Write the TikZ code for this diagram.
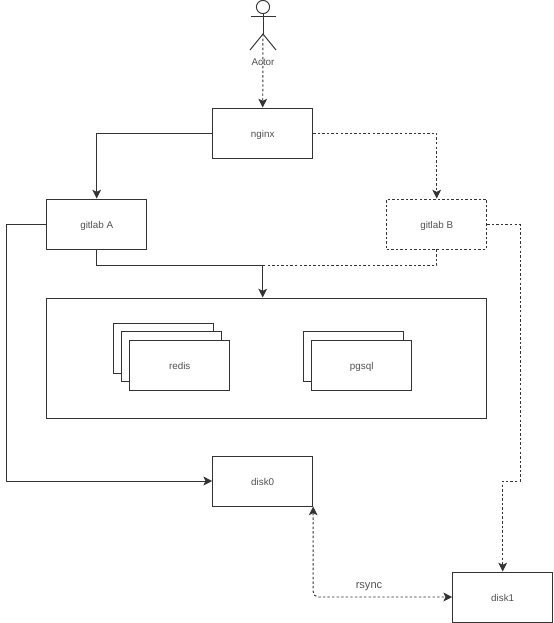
\documentclass[tikz,border=0pt]{standalone}
\usepackage{fontspec}
\usepackage{xcolor}
\setmainfont{Liberation Sans}
\usetikzlibrary{arrows.meta}
\definecolor{linegray}{HTML}{333333}
\definecolor{textgray}{HTML}{505050}
\tikzset{
	boxtext/.style={text=textgray, font=\fontsize{5.6}{7}\selectfont, text height=5.4pt, text depth=0pt},
	box/.style={boxtext, draw=linegray, line width=0.55pt, fill=white, minimum width=2cm, minimum height=1cm, inner sep=0pt},
	dashbox/.style={box, dash pattern=on 1.4pt off 1.2pt},
	link/.style={draw=linegray, line width=0.55pt, -{Stealth[length=5pt, width=5pt, inset=1.2pt]}},
	plainlink/.style={draw=linegray, line width=0.55pt},
	dashlink/.style={link, dash pattern=on 1.4pt off 1.2pt},
	dashplain/.style={plainlink, dash pattern=on 1.4pt off 1.2pt}
}

\begin{document}
\begin{tikzpicture}[x=0.02cm, y=-0.02cm]
		
		\useasboundingbox (0,0) rectangle (554,623);
		
		% actor
		\draw[plainlink] (263,7) circle (6.6);
		\draw[plainlink] (263,14) -- (263,34);
		\draw[plainlink] (250.5,16.5) -- (275.5,16.5);
		\draw[plainlink] (250,50) -- (263,34) -- (276,50);
		\coordinate (actor) at (263,34);
		\node[boxtext] (actorlabel) at (263,61) {Actor};
		
		% boxes
		\node[box] (nginx) at (262.7,133) {nginx};
		\node[box] (gitlaba) at (96.7,224) {gitlab A};
		\node[dashbox] (gitlabb) at (436.7,224) {gitlab B};
		\node[box, minimum width=8.8cm, minimum height=2.4cm] (backend) at (266.7,358) {};
		
		\node[box] (redisc) at (163.5,348) {};
		\node[box] (redisb) at (171.7,356.5) {};
		\node[box] (redisa) at (179.7,365) {redis};
		
		\node[box] (pgsqlb) at (353.7,356.5) {};
		\node[box] (pgsqla) at (361.7,365) {pgsql};
		
		\node[box] (disk0) at (262.7,481) {disk0};
		\node[box] (disk1) at (502.7,597) {disk1};
		
		% bends
		\coordinate (join) at (262.7,265.5);
		\coordinate (leftturn) at (6,224);
		\coordinate (rightturn) at (520,481);
		
		% connectors
		\draw[dashlink] (actor) -- (nginx.north);
		\draw[link] (nginx.west) -| (gitlaba.north);
		\draw[dashlink] (nginx.east) -| (gitlabb.north);
		
		\draw[dashplain] (gitlabb.south) |- (join);
		\draw[plainlink] (gitlaba.south) |- (join);
		\draw[link] (join) -- (backend.north -| join);
		
		\draw[link] (gitlaba.west) -- (leftturn) |- (disk0.west);
		\draw[dashlink] (gitlabb.east) -| (rightturn) -| (disk1.north);
		
		\draw[dashlink, {Stealth[length=5pt, width=5pt, inset=1.2pt]}-{Stealth[length=5pt, width=5pt, inset=1.2pt]}, rounded corners=3pt] (disk0.south east) |- (disk1.west);
		\node[text=textgray, font=\fontsize{6.3}{8}\selectfont] (rsync) at (369,586.5) {rsync};
		
	\end{tikzpicture}
\end{document}
